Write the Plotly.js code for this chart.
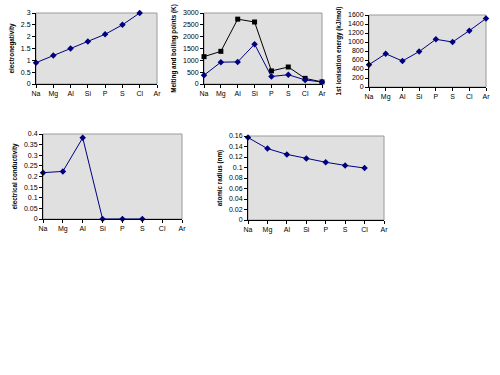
<!DOCTYPE html>
<html><head><meta charset="utf-8">
<script src="https://cdn.plot.ly/plotly-3.0.1.min.js"></script>
<style>html,body{margin:0;padding:0;background:#fff}#c{width:500px;height:375px}</style>
</head><body><div id="c"></div>
<script>
const elements = ["Na","Mg","Al","Si","P","S","Cl","Ar"];
const electronegativity = [0.9,1.2,1.5,1.8,2.1,2.5,3.0];
const meltingPoints = [371,923,933,1683,317,392,172,84];
const boilingPoints = [1156,1380,2740,2620,553,718,238,87];
const ionisationEnergy = [496,738,578,787,1060,1000,1251,1521];
const conductivity = [0.218,0.224,0.382,0,0,0];
const atomicRadius = [0.157,0.136,0.125,0.117,0.110,0.104,0.099];

const W=500,H=375;
const idx = a => a.map((_,i)=>i);
const navy = '#000080';
function tr(vals, ax, color, sym, size){
  return {x: idx(vals), y: vals, xaxis: 'x'+ax, yaxis: 'y'+ax, type:'scatter', mode:'lines+markers',
    line:{color:color,width:1}, marker:{color:color,symbol:sym,size:size}, cliponaxis:false, showlegend:false, hoverinfo:'skip'};
}
const data = [
  tr(electronegativity,'', navy,'diamond',5),
  tr(boilingPoints,'2','#000000','square',5),
  tr(meltingPoints,'2',navy,'diamond',5),
  tr(ionisationEnergy,'3',navy,'diamond',5),
  tr(conductivity,'4',navy,'diamond',5),
  tr(atomicRadius,'5',navy,'diamond',5),
];
const tickfont = {family:'Liberation Sans, Arial, sans-serif', size:7, color:'#000'};
const titlefont = {family:'Liberation Sans, Arial, sans-serif', size:6.3, color:'#000', weight:'bold'};
function xa(l,r,anchor){
  return {domain:[l/W,r/W], range:[0,7], tickvals:idx(elements), ticktext:elements, tickfont:tickfont,
    ticks:'outside', ticklen:3, tickcolor:'#000', showline:true, linecolor:'#000', linewidth:1,
    showgrid:false, zeroline:false, anchor:anchor, fixedrange:true};
}
function ya(t,b,range,dtick,title,anchor,standoff){
  return {domain:[1-b/H,1-t/H], range:range, dtick:dtick, tickfont:tickfont, ticks:'outside', ticklen:3,
    tickcolor:'#000', showline:true, linecolor:'#000', linewidth:1, showgrid:false, zeroline:false,
    anchor:anchor, title:{text:title, font:titlefont, standoff:standoff}, fixedrange:true};
}
const layout = {
  width:W, height:H, margin:{l:0,r:0,t:0,b:0}, paper_bgcolor:'#fff', plot_bgcolor:'#e0e0e0',
  xaxis: xa(36,157,'y'), yaxis: ya(13,84,[0,3],0.5,'electronegativity','x',5),
  xaxis2: xa(204,322,'y2'), yaxis2: ya(13,84,[0,3000],500,'Melting and boiling points (K)','x2',5),
  xaxis3: xa(369,486,'y3'), yaxis3: ya(15,87,[0,1600],200,'1st ionisation energy (kJ/mol)','x3',5),
  xaxis4: xa(43,182,'y4'), yaxis4: ya(134,219,[0,0.4],0.05,'electrical conductivity','x4',5),
  xaxis5: xa(248,384,'y5'), yaxis5: ya(136,220,[0,0.16],0.02,'atomic radius (nm)','x5',5),
  shapes: ['','2','3','4','5'].map(s=>({type:'rect', xref:'x'+s+' domain', yref:'y'+s+' domain', x0:0,x1:1,y0:0,y1:1,
    line:{color:'#9a9a9a',width:1}, layer:'below'}))
};
Plotly.newPlot('c', data, layout, {displayModeBar:false, staticPlot:true});
</script></body></html>
